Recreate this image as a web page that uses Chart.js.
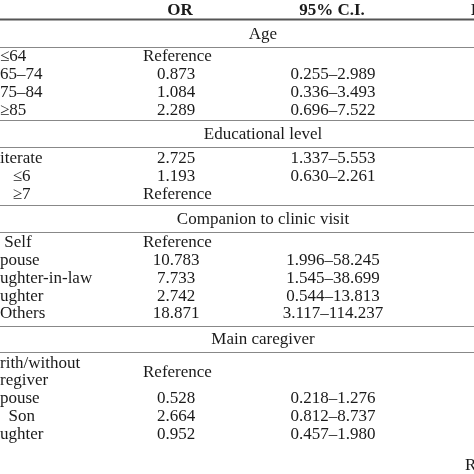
<!DOCTYPE html>
<html><head><meta charset="utf-8">
<script src="https://cdn.jsdelivr.net/npm/chart.js@4"></script>
<style>html,body{margin:0;padding:0;background:#fff}#w{width:474px;height:474px}</style>
</head><body><div id="w"><canvas id="c"></canvas></div>
<script>
const headers = ["OR", "95% C.I."];
const sections = ["Age", "Educational level", "Companion to clinic visit", "Main caregiver"];
const labels = [
  ["≤64", "65–74", "75–84", "≥85"],
  ["iterate", "   ≤6", "   ≥7"],
  [" Self", "pouse", "ughter-in-law", "ughter", "Others"],
  ["rith/without\nregiver", "pouse", "  Son", "ughter"]
];
const orValues = [
  ["Reference", "0.873", "1.084", "2.289"],
  ["2.725", "1.193", "Reference"],
  ["Reference", "10.783", "7.733", "2.742", "18.871"],
  ["Reference", "0.528", "2.664", "0.952"]
];
const ciValues = [
  ["", "0.255–2.989", "0.336–3.493", "0.696–7.522"],
  ["1.337–5.553", "0.630–2.261", ""],
  ["", "1.996–58.245", "1.545–38.699", "0.544–13.813", "3.117–114.237"],
  ["", "0.218–1.276", "0.812–8.737", "0.457–1.980"]
];

const tablePlugin = {
  id: 'table',
  afterDraw(chart) {
    const ctx = chart.ctx, xs = chart.scales.x, ys = chart.scales.y;
    const X = v => xs.getPixelForValue(v), Y = v => ys.getPixelForValue(v);
    ctx.save();
    ctx.fillStyle = '#1a1a1a';
    ctx.textBaseline = 'middle';
    const F = '17px "Liberation Serif"';
    const line = (y, w, col) => { ctx.strokeStyle = col; ctx.lineWidth = w; ctx.beginPath(); ctx.moveTo(X(0), Y(y)); ctx.lineTo(X(474), Y(y)); ctx.stroke(); };
    ctx.font = 'bold 17px "Liberation Serif"';
    ctx.textAlign = 'center';
    ctx.fillText(headers[0], X(180), Y(11));
    ctx.fillText(headers[1], X(332), Y(11));
    ctx.textAlign = 'left';
    ctx.fillText('R', X(471), Y(11));
    line(19.5, 2, '#555');
    ctx.font = F;
    const secY = [35, 135, 220, 340];
    const lineAfterSec = [47.5, 147.5, 232.5, 352.5];
    const firstRow = [57, 159, 243, 373];
    const lineAfterRows = [120.5, 205.5, 326.5];
    const pitch = 17.7;
    sections.forEach((s, i) => {
      ctx.textAlign = 'center';
      ctx.fillText(s, X(263), Y(secY[i]));
      line(lineAfterSec[i], 1, '#888');
      let y = firstRow[i];
      labels[i].forEach((lab, j) => {
        let yy = y;
        if (i === 3 && j >= 1) yy = 399 + (j - 1) * pitch;
        ctx.textAlign = 'left';
        const parts = lab.split('\n');
        if (parts.length > 1) {
          ctx.fillText(parts[0], X(0), Y(yy - 9));
          ctx.fillText(parts[1], X(0), Y(yy + 8));
        } else ctx.fillText(lab, X(0), Y(yy));
        const ov = orValues[i][j];
        if (ov === 'Reference') { ctx.textAlign = 'left'; ctx.fillText(ov, X(143), Y(yy)); }
        else { ctx.textAlign = 'center'; ctx.fillText(ov, X(176), Y(yy)); }
        ctx.textAlign = 'center';
        if (ciValues[i][j]) ctx.fillText(ciValues[i][j], X(333), Y(yy));
        y += pitch;
      });
      if (i < 3) line(lineAfterRows[i], 1, '#888');
    });
    ctx.textAlign = 'left';
    ctx.fillText('R', X(465), Y(466));
    ctx.restore();
  }
};

new Chart(document.getElementById('c'), {
  type: 'scatter',
  data: { datasets: [{ data: [], pointRadius: 0 }] },
  options: {
    responsive: true, maintainAspectRatio: false, animation: false,
    layout: { padding: 0 },
    plugins: { legend: { display: false }, tooltip: { enabled: false } },
    scales: {
      x: { type: 'linear', min: 0, max: 474, display: false },
      y: { type: 'linear', min: 0, max: 474, reverse: true, display: false }
    }
  },
  plugins: [tablePlugin]
});
</script></body></html>
